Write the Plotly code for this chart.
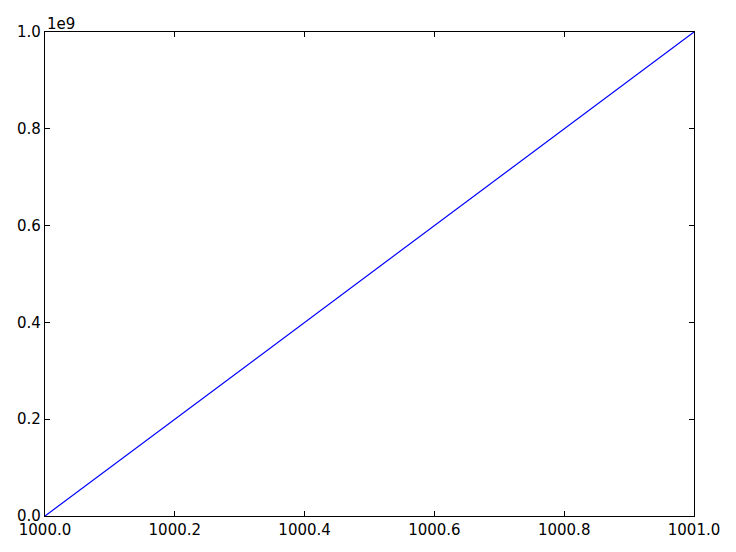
import plotly.graph_objects as go

# data: a straight line from (1000, 0) to (1001, 1e9)
x_vals = [1000.0, 1001.0]
y_vals = [0.0, 1.0e9]

x_ticks = [1000.0, 1000.2, 1000.4, 1000.6, 1000.8, 1001.0]
y_ticks = [0.0, 0.2e9, 0.4e9, 0.6e9, 0.8e9, 1.0e9]

fig = go.Figure()
fig.add_trace(go.Scatter(x=x_vals, y=y_vals, mode='lines',
                         line=dict(color='#0000ff', width=1.2), showlegend=False))

axis_style = dict(showgrid=False, zeroline=False, showline=True, linecolor='black', linewidth=1.2,
                  mirror='ticks', ticks='inside', ticklen=5, tickwidth=1, tickcolor='black',
                  automargin=False,
                  tickfont=dict(family='DejaVu Sans', size=15, color='black'))

fig.update_xaxes(range=[1000.0, 1001.0], tickvals=x_ticks,
                 ticktext=[f'{v:.1f}' for v in x_ticks], **axis_style)
fig.update_yaxes(range=[0, 1.0e9], tickvals=y_ticks,
                 ticktext=[f'{v / 1e9:.1f}' for v in y_ticks], **axis_style)

# matplotlib style offset label
fig.add_annotation(text='1e9', xref='paper', yref='paper', x=0, y=1, xanchor='left', yanchor='bottom',
                   showarrow=False, font=dict(family='DejaVu Sans', size=15, color='black'), yshift=-3)

# page body has an 8px margin, so margins are shifted to compensate
fig.update_layout(width=736, height=552, margin=dict(l=37, r=50, t=24, b=44),
                  plot_bgcolor='white', paper_bgcolor='white')

fig.write_html("out.html")
